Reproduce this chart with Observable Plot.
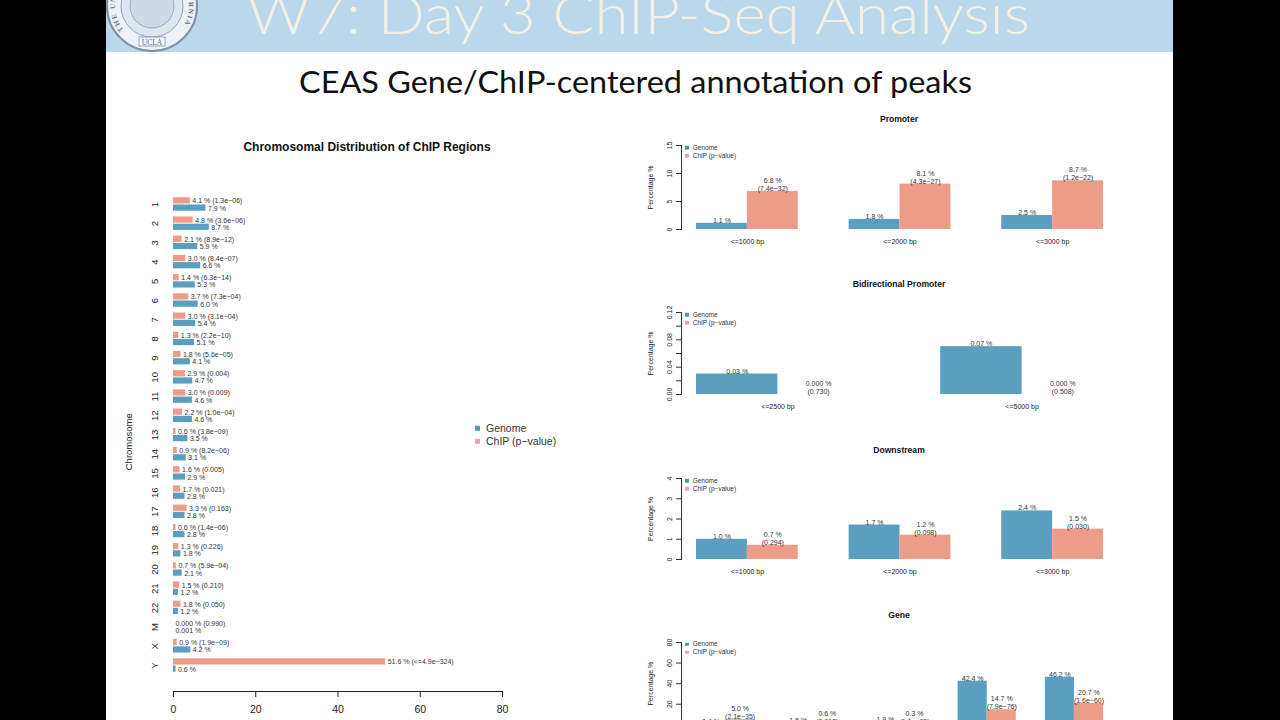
<!DOCTYPE html>
<html>
<head>
<meta charset="utf-8">
<script src="https://cdn.jsdelivr.net/npm/d3@7"></script>
<script src="https://cdn.jsdelivr.net/npm/@observablehq/plot@0.6"></script>
<style>
  html, body { margin: 0; padding: 0; width: 1280px; height: 720px; overflow: hidden; background: #000; }
  #stage { position: absolute; left: 0; top: 0; width: 1280px; height: 720px; overflow: hidden; font-family: "Liberation Sans", Arial, sans-serif; }
  .abs { position: absolute; white-space: nowrap; }
  .ptitle { font-weight: bold; color: #111; transform: translate(-50%, -50%); }
  .leg { display: flex; align-items: center; color: #333; }
  .leg i { display: inline-block; }
</style>
</head>
<body>
<div id="stage">
  <svg class="abs" style="left:0;top:0" width="1280" height="720">
    <rect x="0" y="0" width="1280" height="720" fill="#000"/>
    <rect x="106" y="0" width="1067" height="720" fill="#fff"/>
    <rect x="106" y="0" width="1067" height="52" fill="#b9d8ec"/>
    <defs>
      <!-- seal lettering runs clockwise from lower left, over the top, to lower right -->
      <path id="ring" d="M 123.6 29.8 A 37 37 0 1 1 180.4 29.8"/>
    </defs>
    <g>
      <circle cx="152" cy="6" r="45" fill="#eef2f6" stroke="#7f91a8" stroke-width="2"/>
      <circle cx="152" cy="6" r="31" fill="#dfe6ee" stroke="#93a3b8" stroke-width="1"/>
      <circle cx="152" cy="6" r="22" fill="#cfd9e4" stroke="#9aabbf" stroke-width="1"/>
      <text font-size="7" fill="#5d6f88" font-family="Liberation Serif" font-weight="bold">
        <textPath href="#ring" textLength="160" lengthAdjust="spacing">THE UNIVERSITY OF CALIFORNIA</textPath>
      </text>
      <rect x="139" y="37" width="26" height="9" fill="#f6f8fa" stroke="#7f91a8" stroke-width="0.8"/>
      <text x="152" y="44.5" font-size="7.5" text-anchor="middle" fill="#4f627c" font-family="Liberation Serif">UCLA</text>
    </g>
    <text x="247" y="34" textLength="783" lengthAdjust="spacingAndGlyphs" font-family="Lato" font-weight="300" font-size="56" fill="#f3f0e5">W7: Day 3 ChIP-Seq Analysis</text>
    <text x="299" y="93" textLength="673" lengthAdjust="spacingAndGlyphs" font-family="Lato" font-size="31" fill="#111">CEAS Gene/ChIP-centered annotation of peaks</text>
  </svg>
</div>
<script>
// ---- Chromosomal distribution -------------------------------------------
const chromosomes = ["1","2","3","4","5","6","7","8","9","10","11","12","13","14","15","16","17","18","19","20","21","22","M","X","Y"];
const chromChipPct = [4.1, 4.8, 2.1, 3.0, 1.4, 3.7, 3.0, 1.3, 1.8, 2.9, 3.0, 2.2, 0.6, 0.9, 1.6, 1.7, 3.3, 0.6, 1.3, 0.7, 1.5, 1.8, 0.000, 0.9, 51.6];
const chromGenomePct = [7.9, 8.7, 5.9, 6.6, 5.3, 6.0, 5.4, 5.1, 4.1, 4.7, 4.6, 4.6, 3.5, 3.1, 2.9, 2.8, 2.8, 2.8, 1.8, 2.1, 1.2, 1.2, 0.001, 4.2, 0.6];
const chromChipP = ["1.3e−06","3.6e−06","8.9e−12","8.4e−07","6.3e−14","7.3e−04","3.1e−04","2.2e−10","5.6e−05","0.004","0.009","1.0e−04","3.8e−09","8.2e−06","0.005","0.021","0.163","1.4e−06","0.226","5.9e−04","0.210","0.050","0.990","1.9e−09","<=4.9e−324"];
const chromTicks = [0, 20, 40, 60, 80];

// ---- Gene-centred annotation panels ------------------------------------
const promoterGroups = ["<=1000 bp", "<=2000 bp", "<=3000 bp"];
const promoterGenome = [1.1, 1.8, 2.5];
const promoterChip = [6.8, 8.1, 8.7];
const promoterP = ["7.4e−32", "4.3e−27", "1.2e−22"];

const bidirGroups = ["<=2500 bp", "<=5000 bp"];
const bidirGenome = [0.03, 0.07];
const bidirChip = [0.000, 0.000];
const bidirP = ["0.730", "0.508"];

const downGroups = ["<=1000 bp", "<=2000 bp", "<=3000 bp"];
const downGenome = [1.0, 1.7, 2.4];
const downChip = [0.7, 1.2, 1.5];
const downP = ["0.294", "0.098", "0.030"];

const geneGroups = ["5'UTR", "3'UTR", "Coding Exon", "Intron", "Distal Intergenic"];
const geneGenome = [0.4, 1.5, 1.9, 42.4, 46.2];
const geneChip = [5.0, 0.6, 0.3, 14.7, 20.7];
const geneP = ["2.1e−35", "0.013", "1.1e−05", "7.9e−76", "1.6e−60"];

const GENOME = "#5a9fc0";
const CHIP = "#ee9b88";
const LEG_GENOME = "#4b9e98";
const LEG_CHIP = "#eaa2ac";
const INK = "#333";

const stage = document.getElementById("stage");
const baseStyle = {fontFamily: "Liberation Sans, Arial, sans-serif", background: "transparent", overflow: "visible", color: "#222"};

function place(el, left, top) {
  el.classList.add("abs");
  el.style.left = left + "px";
  el.style.top = top + "px";
  stage.appendChild(el);
  return el;
}

function html(text, cls, left, top, css) {
  const d = document.createElement("div");
  d.className = "abs " + cls;
  d.textContent = text;
  d.style.left = left + "px";
  d.style.top = top + "px";
  Object.assign(d.style, css || {});
  stage.appendChild(d);
  return d;
}

function legend(left, top, size, gap, box, colors) {
  [["Genome", colors[0]], ["ChIP (p−value)", colors[1]]].forEach(([name, c], i) => {
    const row = document.createElement("div");
    row.className = "abs leg";
    row.style.left = left + "px";
    row.style.top = (top + i * gap) + "px";
    row.style.fontSize = size + "px";
    row.style.lineHeight = "1";
    row.style.transform = "translateY(-50%)";
    const sw = document.createElement("i");
    sw.style.width = box + "px";
    sw.style.height = box + "px";
    sw.style.background = c;
    sw.style.marginRight = (box * 1.2) + "px";
    row.appendChild(sw);
    row.appendChild(document.createTextNode(name));
    stage.appendChild(row);
  });
}

const pct = v => v < 0.01 ? v.toFixed(3) : v.toFixed(1);

// Horizontal paired bars per chromosome
{
  const rows = chromosomes.map((c, i) => ({chr: c, genome: chromGenomePct[i], chip: chromChipPct[i], p: chromChipP[i]}));
  const W = 520, H = 560, mL = 63, mR = 128, mT = 31.5, mB = 29, insetB = 13.5, pad = 0.3;
  const step = (H - mT - mB - insetB) / (chromosomes.length + pad);
  const bw = step * (1 - pad);
  const chart = Plot.plot({
    width: W, height: H,
    marginLeft: mL, marginRight: mR, marginTop: mT, marginBottom: mB,
    style: baseStyle,
    x: {domain: [0, 80]},
    y: {type: "band", domain: chromosomes, padding: pad, insetBottom: insetB, round: false},
    marks: [
      Plot.barX(rows, {y: "chr", x: "chip", fill: CHIP, insetBottom: bw / 2 + 0.5}),
      Plot.barX(rows, {y: "chr", x: "genome", fill: GENOME, insetTop: bw / 2 + 0.5}),
      Plot.text(rows, {y: "chr", x: "chip", text: d => `${pct(d.chip)} % (${d.p})`, dx: 2, dy: -bw / 4, textAnchor: "start", fontSize: 7, fill: INK}),
      Plot.text(rows, {y: "chr", x: "genome", text: d => `${pct(d.genome)} %`, dx: 2, dy: bw / 4 + 0.5, textAnchor: "start", fontSize: 7, fill: INK}),
      Plot.frame({anchor: "bottom", stroke: "#222"}),
      Plot.axisX({ticks: chromTicks, tickSize: 6, tickPadding: 8.5, fontSize: 10.5, label: null, stroke: "#222"}),
      Plot.axisY({tickSize: 0, tickRotate: -90, tickPadding: 16, fontSize: 9.5, label: "Chromosome", labelAnchor: "center", labelArrow: "none", labelOffset: 48})
    ]
  });
  place(chart, 110, 160);
  html("Chromosomal Distribution of ChIP Regions", "ptitle", 367, 147, {fontSize: "12px"});
  legend(475, 428, 10.5, 13, 5, [LEG_GENOME, LEG_CHIP]);
}

// Vertical paired bars: genome vs ChIP per distance class
function barPanel({title, titleY, groups, genome, chip, pvals, yMax, yTicks, yFmt, genomeFmt, chipFmt, frameTop, frameBottom}) {
  const rows = groups.map((g, i) => ({group: g, genome: genome[i], chip: chip[i], p: pvals[i]}));
  const W = 490, mL = 51, mR = 17, mT = 15, mB = 24, insetL = 15, pi = 1 / 3;
  const span = W - mL - mR - insetL;
  const bw = span / (groups.length - pi) * (1 - pi);
  const chart = Plot.plot({
    width: W, height: mT + (frameBottom - frameTop) + mB,
    marginLeft: mL, marginRight: mR, marginTop: mT, marginBottom: mB,
    style: baseStyle,
    x: {type: "band", domain: groups, paddingInner: pi, paddingOuter: 0, insetLeft: insetL, round: false},
    y: {domain: [0, yMax]},
    marks: [
      Plot.barY(rows, {x: "group", y: "genome", fill: GENOME, insetRight: bw / 2}),
      Plot.barY(rows, {x: "group", y: "chip", fill: CHIP, insetLeft: bw / 2}),
      Plot.text(rows, {x: "group", y: "genome", text: d => `${genomeFmt(d.genome)} %`, dx: -bw / 4, dy: -0.5, lineAnchor: "bottom", fontSize: 7, fill: INK}),
      Plot.text(rows, {x: "group", y: "chip", text: d => `${chipFmt(d.chip)} %\n(${d.p})`, dx: bw / 4, dy: -0.5, lineAnchor: "bottom", lineHeight: 1.15, fontSize: 7, fill: INK}),
      Plot.frame({anchor: "left", stroke: "#333"}),
      Plot.axisY({ticks: yTicks, tickFormat: yFmt, tickSize: 5, tickPadding: 4.5, tickRotate: -90, fontSize: 7, stroke: "#333",
        label: "Percentage %", labelAnchor: "center", labelArrow: "none", labelOffset: 33.5}),
      Plot.axisX({tickSize: 0, tickPadding: 10, fontSize: 7, label: null})
    ]
  });
  place(chart, 630, frameTop - mT);
  html(title, "ptitle", 899, titleY, {fontSize: "8.6px"});
  legend(685, frameTop + 2.5, 6.5, 8, 3.5, [LEG_GENOME, LEG_CHIP]);
}

const one = v => v.toFixed(1);
const intFmt = d3.format("d");

barPanel({title: "Promoter", titleY: 119, groups: promoterGroups, genome: promoterGenome, chip: promoterChip, pvals: promoterP,
  yMax: 15, yTicks: [0, 5, 10, 15], yFmt: intFmt, genomeFmt: one, chipFmt: one, frameTop: 145, frameBottom: 229});

barPanel({title: "Bidirectional Promoter", titleY: 284, groups: bidirGroups, genome: bidirGenome, chip: bidirChip, pvals: bidirP,
  yMax: 0.12, yTicks: [0, 0.02, 0.04, 0.06, 0.08, 0.10, 0.12],
  yFmt: d => (Math.round(d * 100) % 4 === 0 ? d.toFixed(2) : ""),
  genomeFmt: v => v.toFixed(2), chipFmt: v => v.toFixed(3), frameTop: 312, frameBottom: 394});

barPanel({title: "Downstream", titleY: 450, groups: downGroups, genome: downGenome, chip: downChip, pvals: downP,
  yMax: 4, yTicks: [0, 1, 2, 3, 4], yFmt: intFmt, genomeFmt: one, chipFmt: one, frameTop: 478, frameBottom: 559});

barPanel({title: "Gene", titleY: 615, groups: geneGroups, genome: geneGenome, chip: geneChip, pvals: geneP,
  yMax: 80, yTicks: [0, 20, 40, 60, 80], yFmt: intFmt, genomeFmt: one, chipFmt: one, frameTop: 641.7, frameBottom: 724});
</script>
</body>
</html>
